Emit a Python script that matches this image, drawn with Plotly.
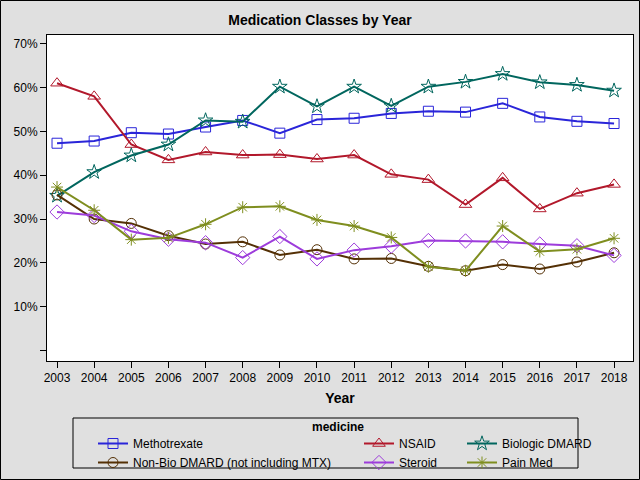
import plotly.graph_objects as go

# ── data (percent of patients) ──────────────────────────────
years = list(range(2003, 2019))

methotrexate = [47.3, 47.8, 49.7, 49.4, 51.0, 52.5, 49.6, 52.7, 53.0, 54.1, 54.6, 54.4, 56.4, 53.3, 52.3, 51.8]
nsaid        = [61.0, 58.0, 47.0, 43.5, 45.3, 44.6, 44.7, 43.7, 44.6, 40.2, 39.0, 33.3, 39.4, 32.3, 35.9, 37.9]
biologic     = [35.3, 40.7, 44.5, 47.0, 52.5, 52.2, 60.2, 55.7, 60.2, 55.8, 60.2, 61.3, 63.1, 61.2, 60.6, 59.3]
nonbio       = [35.5, 30.0, 29.0, 26.2, 24.3, 24.8, 21.8, 23.0, 20.9, 21.0, 19.2, 18.2, 19.6, 18.6, 20.2, 22.3]
steroid      = [31.6, 30.8, 27.2, 25.4, 24.6, 21.2, 26.0, 20.9, 22.9, 23.8, 25.1, 25.0, 24.8, 24.3, 23.9, 21.7]
pain_med     = [37.3, 32.0, 25.3, 25.7, 28.8, 32.7, 32.9, 29.8, 28.4, 25.8, 19.1, 18.2, 28.4, 22.6, 23.1, 25.6]

y_tickvals = [0, 10, 20, 30, 40, 50, 60, 70]
y_ticktext = ["", "10%", "20%", "30%", "40%", "50%", "60%", "70%"]

# name, values, colour, symbol, marker size, legend (3 columns like the SAS legend)
series = [
    ("Methotrexate", methotrexate, "#2A25D9", "square-open", 10, "legend"),
    ("NSAID", nsaid, "#B2182B", "triangle-up-open", 11, "legend2"),
    ("Biologic DMARD", biologic, "#01665E", "star-open", 11, "legend3"),
    ("Non-Bio DMARD (not including MTX)", nonbio, "#543005", "circle-open", 10, "legend"),
    ("Steroid", steroid, "#9D3CDB", "diamond-open", 11, "legend2"),
    ("Pain Med", pain_med, "#7F8E1F", "asterisk-open", 10, "legend3"),
]

FONT = "Liberation Sans, Arial, sans-serif"

fig = go.Figure()
for name, vals, color, sym, size, leg in series:
    fig.add_trace(go.Scatter(
        x=years, y=vals, name=name, mode="lines+markers",
        line=dict(color=color, width=2),
        marker=dict(symbol=sym, size=size, color=color, line=dict(color=color, width=1)),
        legend=leg,
    ))

# pixel geometry of the plot area (640x480 page)
L, R, T, B = 47, 7, 35, 119
W, H = 640 - L - R, 480 - T - B


def px_x(p):
    return (p - L) / W


def px_y(p):
    return (480 - B - p) / H


leg_common = dict(orientation="v", yanchor="top", xanchor="left",
                  bgcolor="rgba(0,0,0,0)", borderwidth=0,
                  font=dict(family=FONT, size=12, color="black"),
                  tracegroupgap=0, y=px_y(429))

fig.update_layout(
    template="none",
    width=640, height=480,
    margin=dict(l=L, r=R, t=T, b=B, autoexpand=False),
    paper_bgcolor="#E0E0E0", plot_bgcolor="white",
    font=dict(family=FONT, size=12, color="black"),
    title=dict(text="<b>Medication Classes by Year</b>", x=0.5, xanchor="center",
               y=1 - 20 / 480, yanchor="middle", font=dict(size=14)),
    legend=dict(**leg_common, x=px_x(93)),
    legend2=dict(**leg_common, x=px_x(359)),
    legend3=dict(**leg_common, x=px_x(462)),
    xaxis=dict(range=[2002.73, 2018.51], tickvals=years, ticks="outside", ticklen=6,
               tickcolor="black", showline=True, linecolor="black", linewidth=1,
               mirror=True, showgrid=False, zeroline=False, automargin=False,
               title=dict(text="<b>Year</b>", standoff=8)),
    yaxis=dict(range=[-2.4, 72], tickvals=y_tickvals, ticktext=y_ticktext,
               ticks="outside", ticklen=6, tickcolor="black", showline=True,
               linecolor="black", linewidth=1, mirror=True, showgrid=False,
               zeroline=False, automargin=False),
    annotations=[dict(text="<b>medicine</b>", xref="paper", yref="paper",
                      x=px_x(338), y=px_y(427), xanchor="center", yanchor="middle",
                      showarrow=False, font=dict(size=12))],
    shapes=[
        # legend frame
        dict(type="rect", xref="paper", yref="paper",
             x0=px_x(73), x1=px_x(578), y0=px_y(468), y1=px_y(418),
             line=dict(color="black", width=1)),
        # outer page frame
        dict(type="rect", xref="paper", yref="paper",
             x0=px_x(0.5), x1=px_x(639.5), y0=px_y(479.5), y1=px_y(0.5),
             line=dict(color="black", width=1)),
    ],
)

# drop the browser's default 8px body margin so the figure sits at (0,0)
fig.write_html("out.html", config={"displayModeBar": False},
               post_script="document.body.style.margin='0';document.body.style.overflow='hidden';")
